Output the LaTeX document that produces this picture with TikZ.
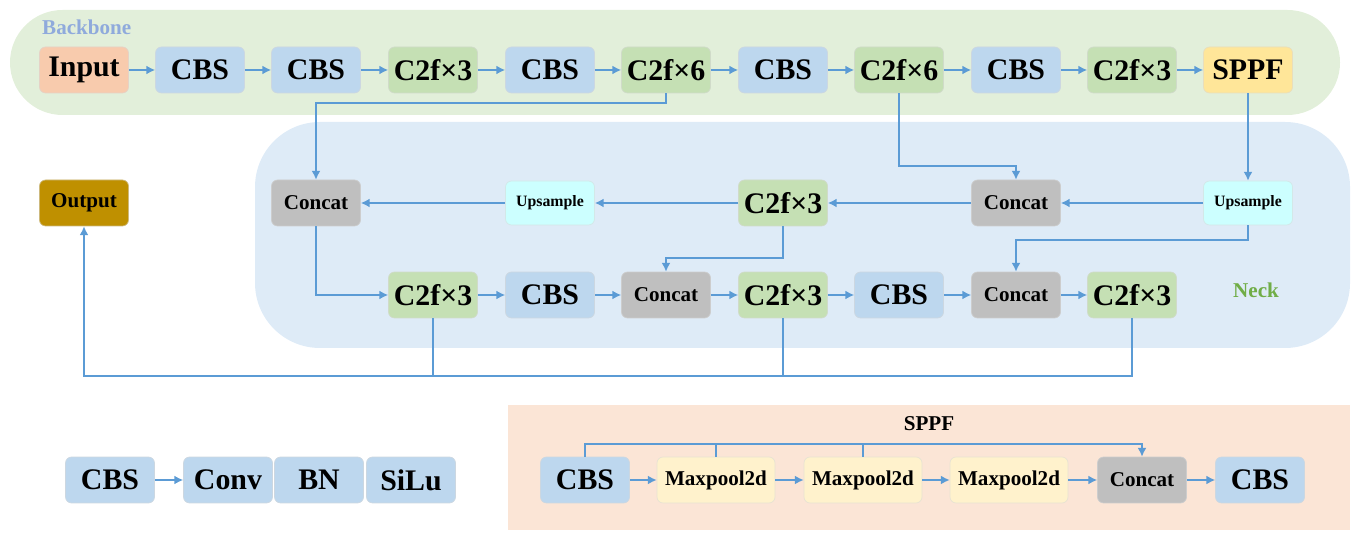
\documentclass[tikz,border=0pt]{standalone}
\usepackage{fontspec}
\setmainfont{Liberation Serif}
\usetikzlibrary{arrows.meta}
\definecolor{ar}{HTML}{5B9BD5}
\tikzset{
 x=0.02cm,y=-0.02cm,
 box/.style={draw=#1!70!gray!60,rounded corners=0.12cm,minimum width=1.78cm,minimum height=0.92cm,inner sep=1pt,font=\bfseries\fontsize{17}{17}\selectfont,fill=#1},
 cbs/.style={box=cbsc},
 c2f/.style={box=c2fc},
 cat/.style={box=catc,font=\bfseries\fontsize{12}{12}\selectfont},
 ups/.style={box=upc,font=\bfseries\fontsize{9}{9}\selectfont,minimum height=0.88cm},
 mp/.style={box=mpc,font=\bfseries\fontsize{12}{12}\selectfont,minimum width=2.36cm},
 a/.style={draw=ar,line width=0.8pt,-{Latex[length=5pt,width=5pt]}},
 l/.style={draw=ar,line width=0.8pt},
}
\definecolor{cbsc}{HTML}{BDD7EE}
\definecolor{c2fc}{HTML}{C5E0B4}
\definecolor{catc}{HTML}{BFBFBF}
\definecolor{upc}{HTML}{CCFFFF}
\definecolor{mpc}{HTML}{FFF2CC}
\definecolor{inc}{HTML}{F8CBAD}
\definecolor{spc}{HTML}{FFE699}
\definecolor{outc}{HTML}{BF9000}
\begin{document}
\begin{tikzpicture}
\useasboundingbox (0,0) rectangle (1358,546);
\fill[color=green!10!white,fill={rgb,255:red,226;green,239;blue,218}] (10,10) [rounded corners=1.05cm] rectangle (1340,115);
\fill[fill={rgb,255:red,222;green,235;blue,247}] (255,122) [rounded corners=1.3cm] rectangle (1350,348);
\fill[fill={rgb,255:red,251;green,229;blue,214}] (508,405) rectangle (1350,530);
\node[anchor=west,text={rgb,255:red,143;green,170;blue,220},font=\bfseries\fontsize{12}{12}\selectfont] (bb) at (36,27) {Backbone};
\node[text={rgb,255:red,112;green,173;blue,71},font=\bfseries\fontsize{12}{12}\selectfont] (nk) at (1256,290) {Neck};
\node[font=\bfseries\fontsize{12}{12}\selectfont] (sp) at (929,424) {SPPF};
% row1
\node[box=inc] (in) at (84,70) {Input};
\node[cbs] (b1) at (200,70) {CBS};
\node[cbs] (b2) at (316,70) {CBS};
\node[c2f] (b3) at (433,70) {C2f×3};
\node[cbs] (b4) at (550,70) {CBS};
\node[c2f] (b5) at (666,70) {C2f×6};
\node[cbs] (b6) at (783,70) {CBS};
\node[c2f] (b7) at (899,70) {C2f×6};
\node[cbs] (b8) at (1016,70) {CBS};
\node[c2f] (b9) at (1132,70) {C2f×3};
\node[box=spc] (b10) at (1248,70) {SPPF};
\foreach \p/\q in {in/b1,b1/b2,b2/b3,b3/b4,b4/b5,b5/b6,b6/b7,b7/b8,b8/b9,b9/b10}{\draw[a] (\p) -- (\q);}
% row2
\node[box=outc,font=\bfseries\fontsize{12}{12}\selectfont] (out) at (84,203) {Output};
\node[cat] (n1) at (316,203) {Concat};
\node[ups] (n2) at (550,203) {Upsample};
\node[c2f] (n3) at (783,203) {C2f×3};
\node[cat] (n4) at (1016,203) {Concat};
\node[ups] (n5) at (1248,203) {Upsample};
\draw[a] (n5) -- (n4); \draw[a] (n4) -- (n3); \draw[a] (n3) -- (n2); \draw[a] (n2) -- (n1);
% row3
\node[c2f] (m1) at (433,295) {C2f×3};
\node[cbs] (m2) at (550,295) {CBS};
\node[cat] (m3) at (666,295) {Concat};
\node[c2f] (m4) at (783,295) {C2f×3};
\node[cbs] (m5) at (899,295) {CBS};
\node[cat] (m6) at (1016,295) {Concat};
\node[c2f] (m7) at (1132,295) {C2f×3};
\foreach \p/\q in {m1/m2,m2/m3,m3/m4,m4/m5,m5/m6,m6/m7}{\draw[a] (\p) -- (\q);}
\draw[a] (b5.south) -- (666,103) -- (316,103) -- (n1.north);
\draw[a] (b7.south) -- (899,166) -- (1016,166) -- (n4.north);
\draw[a] (b10) -- (n5);
\draw[a] (n1.south) |- (m1.west);
\draw[a] (n3.south) -- (783,258) -- (666,258) -- (m3.north);
\draw[a] (n5.south) -- (1248,240) -- (1016,240) -- (m6.north);
\coordinate (c1) at (433,376); \coordinate (c2) at (783,376); \coordinate (c3) at (1132,376); \coordinate (c0) at (84,376);
\draw[l] (m1.south) -- (c1); \draw[l] (m4.south) -- (c2);
\draw[a] (m7.south) -- (c3) -- (c0) -- (out.south);
% legend
\node[cbs] (lc) at (110,480) {CBS};
\node[cbs] (lv) at (228,480) {Conv};
\node[cbs] (ln) at (319,480) {BN};
\node[cbs] (ls) at (411,480) {SiLu};
\draw[a] (lc) -- (lv);
% sppf
\node[cbs] (s1) at (585,480) {CBS};
\node[mp] (s2) at (716,480) {Maxpool2d};
\node[mp] (s3) at (863,480) {Maxpool2d};
\node[mp] (s4) at (1009,480) {Maxpool2d};
\node[cat] (s5) at (1142,480) {Concat};
\node[cbs] (s6) at (1260,480) {CBS};
\foreach \p/\q in {s1/s2,s2/s3,s3/s4,s4/s5,s5/s6}{\draw[a] (\p) -- (\q);}
\draw[a] (s1.north) -- (585,444) -- (1142,444) -- (s5.north);
\draw[l] (s2.north) -- (716,444); \draw[l] (s3.north) -- (863,444);
\end{tikzpicture}
\end{document}
